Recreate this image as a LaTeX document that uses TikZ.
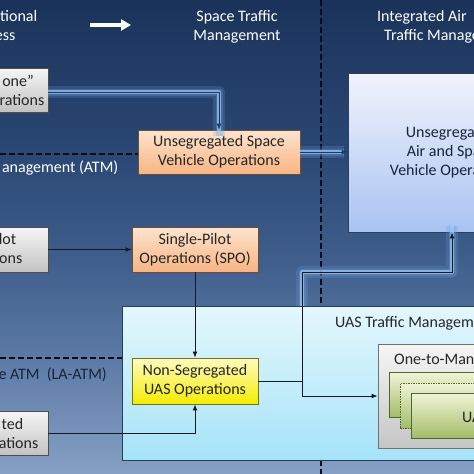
\documentclass[tikz,border=0pt]{standalone}
\usepackage{fontspec}
\setmainfont{Carlito}
\usetikzlibrary{arrows.meta}
\definecolor{bgA}{HTML}{DDE5F0}
\definecolor{bgB}{HTML}{BCCBDF}
\definecolor{bgC}{HTML}{86A0C4}
\definecolor{bgD}{HTML}{5D7BA6}
\definecolor{bgE}{HTML}{3E5D8A}
\definecolor{bgF}{HTML}{294672}
\definecolor{bgG}{HTML}{1B335A}
\definecolor{bgH}{HTML}{14284A}
\definecolor{txtdark}{HTML}{262626}
\definecolor{grayT}{HTML}{F6F6F6}
\definecolor{grayB}{HTML}{C2C2C2}
\definecolor{grayL}{HTML}{4E4E4E}
\definecolor{orngT}{HTML}{FDE4CF}
\definecolor{orngB}{HTML}{F7B482}
\definecolor{orngL}{HTML}{6A4E3C}
\definecolor{yelT}{HTML}{FFFBC4}
\definecolor{yelB}{HTML}{F4EC00}
\definecolor{yelL}{HTML}{7A7410}
\definecolor{intT}{HTML}{F2F3FC}
\definecolor{intB}{HTML}{A8C3F2}
\definecolor{intL}{HTML}{2C3E5C}
\definecolor{uasT}{HTML}{E4F7FD}
\definecolor{uasB}{HTML}{A6E3F8}
\definecolor{uasL}{HTML}{243F5E}
\definecolor{grnT}{HTML}{F0F5D8}
\definecolor{grnB}{HTML}{A3BC68}
\definecolor{grnL}{HTML}{4F6630}
\definecolor{lineC}{HTML}{121A28}
\definecolor{dashC}{HTML}{080C16}
\definecolor{glowA}{HTML}{6A9FE0}
\definecolor{glowB}{HTML}{A8CCF4}
\definecolor{coreC}{HTML}{1A3A68}
\definecolor{labdark}{HTML}{16243C}
\pgfdeclareverticalshading{bgshade}{100bp}{color(0bp)=(bgA); color(10bp)=(bgB); color(25bp)=(bgC); color(37bp)=(bgD); color(48bp)=(bgE); color(60bp)=(bgF); color(75bp)=(bgG); color(100bp)=(bgH)}
\tikzset{
  txt/.style={font=\fontsize{16pt}{19pt}\selectfont, text=txtdark, inner sep=0pt},
  wtxt/.style={txt, text=white},
  gbox/.style={draw=grayL, line width=0.8pt, top color=grayT, bottom color=grayB, inner sep=0pt},
  obox/.style={txt, align=center, draw=orngL, line width=0.8pt, top color=orngT, bottom color=orngB},
  ybox/.style={txt, align=center, draw=yelL, line width=0.8pt, top color=yelT, bottom color=yelB},
  ibox/.style={txt, align=center, text=labdark, draw=intL, line width=0.8pt, top color=intT, bottom color=intB},
  ubox/.style={draw=uasL, line width=0.9pt, top color=uasT, bottom color=uasB, inner sep=0pt},
  mbox/.style={draw=grayL!80, line width=0.8pt, top color=grayT, bottom color=grayB!95, inner sep=0pt},
  grbox/.style={draw=grnL, line width=0.8pt, top color=grnT, bottom color=grnB, inner sep=0pt},
  conn/.style={draw=lineC, line width=1pt, -{Latex[length=6pt,width=5pt]}},
  plain/.style={draw=lineC, line width=1pt},
  glowouter/.style={draw=glowA, line width=12pt, opacity=0.22, line join=round},
  glowmid/.style={draw=glowA, line width=7pt, opacity=0.3, line join=round},
  glowinner/.style={draw=glowB, line width=4pt, opacity=0.65, line join=round},
  dashline/.style={draw=dashC, line width=2.5pt, dash pattern=on 6pt off 3pt},
}
\begin{document}
\begin{tikzpicture}[x=1pt,y=-1pt]
\useasboundingbox (0,0) rectangle (474,474);
\clip (0,0) rectangle (474,474);
\path[shading=bgshade] (0,0) rectangle (474,474);

% coordinates
\coordinate (dvTop) at (321,0);
\coordinate (dvMid) at (321,306);
\coordinate (dvLow) at (321,460);
\coordinate (dvBot) at (321,474);
\coordinate (dh1L) at (0,154);
\coordinate (dh2L) at (0,358);
\coordinate (jn) at (302,381);
\coordinate (jt) at (302,272);
\coordinate (jr) at (452,272);
\coordinate (wa1) at (90,25);
\coordinate (wa2) at (131,25);

% boxes (positions)
\node[obox, minimum width=162, minimum height=44] (usvo) at (219,152) {Unsegregated Space\\Vehicle Operations};
\node[ibox, minimum width=206, minimum height=159] (integ) at (451,152.5) {Unsegregated\\Air and Space\\Vehicle Operations};

% dashed lines
\draw[dashline] (dvTop) -- (dvMid);
\draw[dashline] (dvLow) -- (dvBot);
\draw[dashline] (dh1L) -- (usvo.west |- dh1L);

% glow
\node[gbox, minimum width=108, minimum height=44] (zone) at (-6,90) {};
\foreach \g in {glowouter,glowmid,glowinner}{
  \path[\g] (zone.east |- 0,92) -- (usvo.north |- 0,92) -- ([yshift=-6pt]usvo.north);
  \path[\g] (usvo.east) -- ([xshift=-4pt]integ.west |- usvo.east);
  \path[\g] (jn) -- (jt) -- (jr) -- ([yshift=6pt]jr |- integ.south);
}

% UAS region
\node[ubox, minimum width=478, minimum height=154] (uas) at (361,383) {};
\draw[dashline] (dh2L) -- (uas.west |- dh2L);
\node[mbox, minimum width=182, minimum height=104] (otm) at (469,396) {};
\node[grbox, minimum width=171, minimum height=45] (g1) at (474.5,394.5) {};
\node[grbox, dash pattern=on 1.5pt off 1pt, minimum width=171, minimum height=45] (g2) at (485.5,405.5) {};
\node[grbox, minimum width=171, minimum height=45] (g3) at (496.5,415.5) {};

% left boxes
\node[gbox, minimum width=108, minimum height=45] (pilot) at (-6,249.5) {};
\node[gbox, minimum width=108, minimum height=44] (rem) at (-6,433) {};
\node[obox, minimum width=126, minimum height=45] (spo) at (195,249.5) {Single-Pilot\\Operations (SPO)};
\node[ybox, minimum width=126, minimum height=46] (nonseg) at (195,381) {Non-Segregated\\UAS Operations};

% texts
\node[wtxt, anchor=base east] (h1a) at (37.5,21) {tional};
\node[wtxt, anchor=base east] (h1b) at (15.5,40) {ess};
\node[wtxt, anchor=base] (h2a) at (237,21) {Space Traffic};
\node[wtxt, anchor=base] (h2b) at (237,40) {Management};
\node[wtxt, anchor=base west] (h3a) at (377,21) {Integrated Air};
\node[wtxt, anchor=base west] (h3b) at (384,40) {Traffic Management};
\node[wtxt, anchor=base east] (atm) at (118.5,172) {anagement (ATM)};
\node[txt, text=labdark, anchor=base east] (laatm) at (107,379) {e ATM\ \ (LA-ATM)};
\node[txt, anchor=base east] (zoneA) at (34,86) {one”};
\node[txt, anchor=base east] (zoneB) at (44.5,105) {rations};
\node[txt, anchor=base east] (pilotA) at (16.5,244) {lot};
\node[txt, anchor=base east] (pilotB) at (22.5,263) {ons};
\node[txt, anchor=base east] (remA) at (23.5,429) {ted};
\node[txt, anchor=base east] (remB) at (38.5,448) {ations};
\node[txt, anchor=base west] (uasT) at (335,327) {UAS Traffic Management};
\node[txt, anchor=base west] (otmT) at (394,364) {One-to-Many};
\node[txt, anchor=base west] (g3T) at (462,422) {UAS};

% white arrow
\draw[white, line width=4.5pt, -{Triangle[length=10pt,width=11pt]}] (wa1) -- (wa2);

% connectors
\draw[draw=coreC, line width=1pt, -{Latex[length=6pt,width=5pt]}] (zone.east |- 0,92) -- (usvo.north |- 0,92) -- (usvo.north);
\draw[draw=coreC, line width=1pt, -{Latex[length=6pt,width=5pt]}] (usvo.east) -- (integ.west |- usvo.east);
\draw[conn] (pilot.east) -- (spo.west);
\draw[conn] (spo.south) -- (nonseg.north);
\draw[conn] (rem.east) -| (nonseg.south);
\draw[plain] (nonseg.east) -- (jn);
\draw[conn] (jn) -- (jt) -- (jr) -- (jr |- integ.south);
\draw[conn] (jn) |- (otm.west);
\end{tikzpicture}
\end{document}
